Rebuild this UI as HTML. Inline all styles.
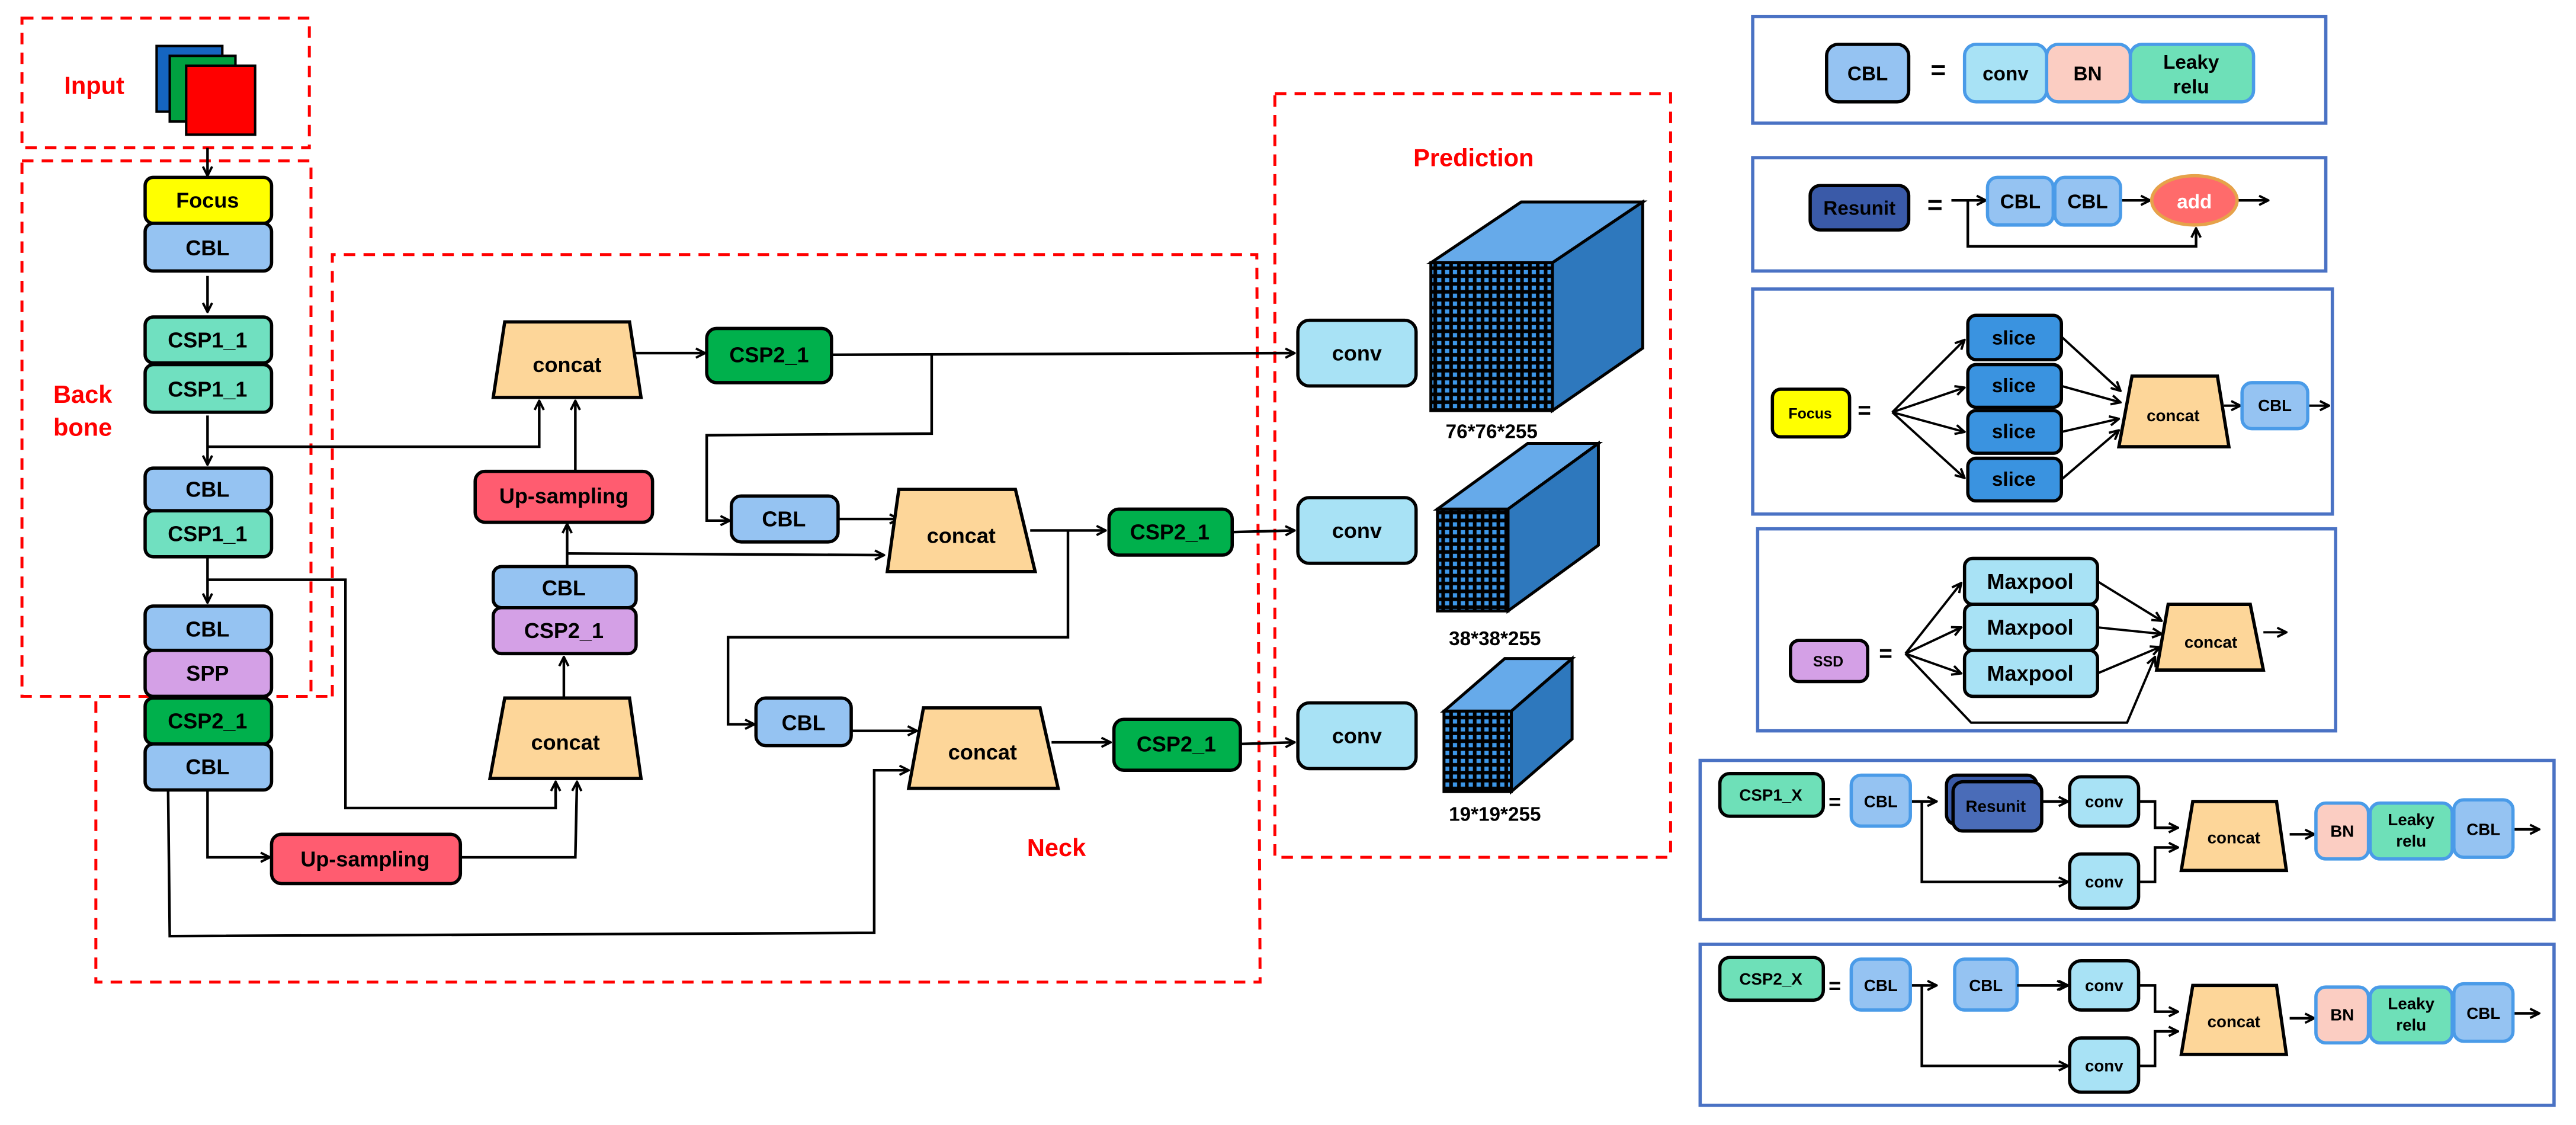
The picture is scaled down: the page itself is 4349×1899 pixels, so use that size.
<!DOCTYPE html>
<html><head><meta charset="utf-8"><style>
html,body{margin:0;padding:0;background:#fff;}
svg{display:block;}
text{font-family:"Liberation Sans",sans-serif;font-weight:bold;text-anchor:middle;dominant-baseline:central;}
</style></head><body>
<svg width="4349" height="1899" viewBox="0 0 1568 685" xmlns="http://www.w3.org/2000/svg">
<defs>
<marker id="a" viewBox="0 0 10 10" refX="9" refY="5" markerWidth="7" markerHeight="7" orient="auto" markerUnits="userSpaceOnUse"><path d="M1,1 L9,5 L1,9" fill="none" stroke="#000" stroke-width="2"/></marker>
<pattern id="g" width="4.8" height="4.8" patternUnits="userSpaceOnUse"><rect width="4.8" height="4.8" fill="#000"/><rect x="1.2" y="1.2" width="2.6" height="2.6" fill="#3d97e8"/></pattern>
</defs>

<g fill="none" stroke="#ff0000" stroke-width="1.8" stroke-dasharray="7,5">
<rect x="13" y="11" width="175" height="79"/>
<rect x="13" y="98" width="176" height="326"/>
<polyline points="202,424 202,155 765,155 767,598 58,598 58,424 202,424"/>
<rect x="776" y="57" width="241" height="465"/>
</g>
<text x="57" y="52" fill="#ff0000" font-size="15">Input</text>
<text x="50" y="240" fill="#ff0000" font-size="15">Back</text>
<text x="50" y="260" fill="#ff0000" font-size="15">bone</text>
<text x="643" y="516" fill="#ff0000" font-size="15">Neck</text>
<text x="897" y="96" fill="#ff0000" font-size="15">Prediction</text>

<rect x="95" y="28" width="40" height="40" fill="#1565c0" stroke="#000" stroke-width="1.5"/>
<rect x="103" y="34" width="40" height="40" fill="#00a040" stroke="#000" stroke-width="1.5"/>
<rect x="113" y="40" width="42" height="42" fill="#ff0000" stroke="#000" stroke-width="1.5"/>

<g fill="none" stroke="#000" stroke-width="1.6">
<line x1="126" y1="90" x2="126" y2="107" marker-end="url(#a)"/>
<line x1="126" y1="168" x2="126" y2="190" marker-end="url(#a)"/>
<line x1="126" y1="253" x2="126" y2="283" marker-end="url(#a)"/>
<polyline points="126,272 328,272 328,244" marker-end="url(#a)"/>
<line x1="126" y1="339" x2="126" y2="367" marker-end="url(#a)"/>
<polyline points="126,353 210,353 210,492 338,492 338,476" marker-end="url(#a)"/>
<polyline points="126,481 126,522 164,522" marker-end="url(#a)"/>
<polyline points="280,522 350,522 351,476" marker-end="url(#a)"/>
<polyline points="102,481 103,570 532,568 532,469 553,469" marker-end="url(#a)"/>
<line x1="343" y1="425" x2="343" y2="400" marker-end="url(#a)"/>
<line x1="345" y1="345" x2="345" y2="319" marker-end="url(#a)"/>
<polyline points="345,337 538,338" marker-end="url(#a)"/>
<line x1="350" y1="287" x2="350" y2="244" marker-end="url(#a)"/>
<line x1="385" y1="215" x2="429" y2="215" marker-end="url(#a)"/>
<polyline points="506,216 788,215" marker-end="url(#a)"/>
<polyline points="567,216 567,264 430,265 430,317 444,317" marker-end="url(#a)"/>
<line x1="510" y1="316" x2="547" y2="316" marker-end="url(#a)"/>
<line x1="627" y1="323" x2="673" y2="323" marker-end="url(#a)"/>
<line x1="750" y1="324" x2="788" y2="323" marker-end="url(#a)"/>
<polyline points="650,323 650,388 443,388 443,441 459,441" marker-end="url(#a)"/>
<line x1="518" y1="445" x2="558" y2="445" marker-end="url(#a)"/>
<line x1="640" y1="452" x2="676" y2="452" marker-end="url(#a)"/>
<line x1="755" y1="453" x2="788" y2="452" marker-end="url(#a)"/>
</g>

<g stroke="#000" stroke-width="2" font-size="13">
<rect x="88" y="108" width="77" height="28" rx="5" fill="#ffff00"/>
<rect x="88" y="136" width="77" height="29" rx="5" fill="#95c3f2"/>
<rect x="88" y="193" width="77" height="28" rx="5" fill="#70e0c0"/>
<rect x="88" y="222" width="77" height="29" rx="5" fill="#70e0c0"/>
<rect x="88" y="285" width="77" height="26" rx="5" fill="#95c3f2"/>
<rect x="88" y="311" width="77" height="28" rx="5" fill="#70e0c0"/>
<rect x="88" y="369" width="77" height="27" rx="5" fill="#95c3f2"/>
<rect x="88" y="396" width="77" height="28" rx="5" fill="#d4a0e6"/>
<rect x="88" y="425" width="77" height="28" rx="5" fill="#00b04c"/>
<rect x="88" y="453" width="77" height="28" rx="5" fill="#95c3f2"/>
<rect x="165" y="508" width="115" height="30" rx="6" fill="#ff5c70"/>
<polygon points="307,425 383,425 390,474 298,474" fill="#fdd699"/>
<rect x="300" y="345" width="87" height="25" rx="5" fill="#95c3f2"/>
<rect x="300" y="370" width="87" height="28" rx="5" fill="#d4a0e6"/>
<rect x="289" y="287" width="108" height="31" rx="6" fill="#ff5c70"/>
<polygon points="307,196 383,196 390,242 300,242" fill="#fdd699"/>
<rect x="430" y="200" width="76" height="33" rx="6" fill="#00b04c"/>
<rect x="445" y="302" width="65" height="28" rx="6" fill="#95c3f2"/>
<polygon points="547,298 618,298 630,348 540,348" fill="#fdd699"/>
<rect x="675" y="310" width="75" height="28" rx="6" fill="#00b04c"/>
<rect x="460" y="425" width="58" height="29" rx="6" fill="#95c3f2"/>
<polygon points="562,431 633,431 644,480 553,480" fill="#fdd699"/>
<rect x="678" y="438" width="77" height="31" rx="6" fill="#00b04c"/>
<rect x="790" y="195" width="72" height="40" rx="7" fill="#a8e2f5"/>
<rect x="790" y="303" width="72" height="40" rx="7" fill="#a8e2f5"/>
<rect x="790" y="428" width="72" height="40" rx="7" fill="#a8e2f5"/>
</g>
<g font-size="13" fill="#000">
<text x="126" y="122">Focus</text><text x="126" y="151">CBL</text>
<text x="126" y="207">CSP1_1</text><text x="126" y="237">CSP1_1</text>
<text x="126" y="298">CBL</text><text x="126" y="325">CSP1_1</text>
<text x="126" y="383">CBL</text><text x="126" y="410">SPP</text>
<text x="126" y="439">CSP2_1</text><text x="126" y="467">CBL</text>
<text x="222" y="523">Up-sampling</text>
<text x="344" y="452">concat</text>
<text x="343" y="358">CBL</text><text x="343" y="384">CSP2_1</text>
<text x="343" y="302">Up-sampling</text>
<text x="345" y="222">concat</text>
<text x="468" y="216">CSP2_1</text>
<text x="477" y="316">CBL</text>
<text x="585" y="326">concat</text>
<text x="712" y="324">CSP2_1</text>
<text x="489" y="440">CBL</text>
<text x="598" y="458">concat</text>
<text x="716" y="453">CSP2_1</text>
<text x="826" y="215">conv</text><text x="826" y="323">conv</text><text x="826" y="448">conv</text>
</g>

<g stroke="#000" stroke-width="1.8" stroke-linejoin="miter">
<polygon points="871,160 945,160 1000,123 926,123" fill="#66aaea"/>
<polygon points="945,160 1000,123 1000,212 945,250" fill="#2e78bd"/>
<rect x="871" y="160" width="74" height="90" fill="url(#g)"/>
<polygon points="875,310 918,310 973,270 930,270" fill="#66aaea"/>
<polygon points="918,310 973,270 973,332 918,372" fill="#2e78bd"/>
<rect x="875" y="310" width="43" height="62" fill="url(#g)"/>
<polygon points="879,433 920,433 957,401 916,401" fill="#66aaea"/>
<polygon points="920,433 957,401 957,450 920,482" fill="#2e78bd"/>
<rect x="879" y="433" width="41" height="49" fill="url(#g)"/>
</g>
<g font-size="12"><text x="908" y="263">76*76*255</text><text x="910" y="389">38*38*255</text><text x="910" y="496">19*19*255</text></g>

<g fill="none" stroke="#4a72c4" stroke-width="2">
<rect x="1067" y="10" width="349" height="65"/>
<rect x="1067" y="96" width="349" height="69"/>
<rect x="1067" y="176" width="353" height="137"/>
<rect x="1070" y="322" width="352" height="123"/>
<rect x="1035" y="463" width="520" height="97"/>
<rect x="1035" y="575" width="520" height="98"/>
</g>

<g stroke-width="2" font-size="12">
<rect x="1112" y="27" width="50" height="35" rx="7" fill="#95c3f2" stroke="#000"/>
<rect x="1196" y="27" width="50" height="35" rx="7" fill="#a8e2f5" stroke="#4a9be8"/>
<rect x="1246" y="27" width="51" height="35" rx="7" fill="#fbcdc2" stroke="#4a9be8"/>
<rect x="1297" y="27" width="75" height="35" rx="7" fill="#6ee0b8" stroke="#4a9be8"/>
</g>
<g font-size="12"><text x="1137" y="45">CBL</text><text x="1180" y="43" font-size="16">=</text><text x="1221" y="45">conv</text><text x="1271" y="45">BN</text><text x="1334" y="38">Leaky</text><text x="1334" y="53">relu</text></g>

<g fill="none" stroke="#000" stroke-width="1.6">
<line x1="1188" y1="122" x2="1209" y2="122" marker-end="url(#a)"/>
<line x1="1291" y1="122" x2="1309" y2="122" marker-end="url(#a)"/>
<line x1="1362" y1="122" x2="1381" y2="122" marker-end="url(#a)"/>
<polyline points="1198,122 1198,150 1337,150 1337,139" marker-end="url(#a)"/>
</g>
<rect x="1102" y="113" width="60" height="27" rx="6" fill="#3a5aa8" stroke="#000" stroke-width="2"/>
<rect x="1210" y="108" width="40" height="29" rx="6" fill="#95c3f2" stroke="#4a9be8" stroke-width="2"/>
<rect x="1251" y="108" width="40" height="29" rx="6" fill="#95c3f2" stroke="#4a9be8" stroke-width="2"/>
<ellipse cx="1336" cy="122" rx="26" ry="15" fill="#ff6b6b" stroke="#e6a24a" stroke-width="2"/>
<g font-size="12"><text x="1132" y="127">Resunit</text><text x="1178" y="125" font-size="16">=</text><text x="1230" y="123">CBL</text><text x="1271" y="123">CBL</text><text x="1336" y="123" fill="#fff" font-weight="normal">add</text></g>

<g fill="none" stroke="#000" stroke-width="1.4">
<line x1="1152" y1="251" x2="1196" y2="207" marker-end="url(#a)"/>
<line x1="1152" y1="251" x2="1196" y2="236" marker-end="url(#a)"/>
<line x1="1152" y1="251" x2="1196" y2="263" marker-end="url(#a)"/>
<line x1="1152" y1="251" x2="1196" y2="291" marker-end="url(#a)"/>
<line x1="1255" y1="205" x2="1291" y2="238" marker-end="url(#a)"/>
<line x1="1255" y1="235" x2="1291" y2="245" marker-end="url(#a)"/>
<line x1="1255" y1="263" x2="1290" y2="255" marker-end="url(#a)"/>
<line x1="1255" y1="292" x2="1290" y2="262" marker-end="url(#a)"/>
<line x1="1354" y1="247" x2="1364" y2="247" marker-end="url(#a)"/>
<line x1="1405" y1="247" x2="1418" y2="247" marker-end="url(#a)"/>
</g>
<g stroke="#000" stroke-width="2">
<rect x="1079" y="237" width="47" height="29" rx="5" fill="#ffff00"/>
<rect x="1198" y="192" width="57" height="27" rx="5" fill="#3a93e0"/>
<rect x="1198" y="222" width="57" height="26" rx="5" fill="#3a93e0"/>
<rect x="1198" y="250" width="57" height="26" rx="5" fill="#3a93e0"/>
<rect x="1198" y="279" width="57" height="26" rx="5" fill="#3a93e0"/>
<polygon points="1298,229 1350,229 1357,272 1290,272" fill="#fdd699"/>
</g>
<rect x="1365" y="233" width="40" height="28" rx="6" fill="#95c3f2" stroke="#4a9be8" stroke-width="2"/>
<g font-size="12"><text x="1102" y="252" font-size="9">Focus</text><text x="1135" y="250" font-size="14">=</text>
<text x="1226" y="206">slice</text><text x="1226" y="235">slice</text><text x="1226" y="263">slice</text><text x="1226" y="292">slice</text>
<text x="1323" y="253" font-size="10">concat</text><text x="1385" y="247" font-size="10">CBL</text></g>

<g fill="none" stroke="#000" stroke-width="1.4">
<line x1="1160" y1="398" x2="1194" y2="355" marker-end="url(#a)"/>
<line x1="1160" y1="398" x2="1194" y2="382" marker-end="url(#a)"/>
<line x1="1160" y1="398" x2="1194" y2="410" marker-end="url(#a)"/>
<polyline points="1160,398 1200,440 1295,440 1312,400" marker-end="url(#a)"/>
<line x1="1277" y1="354" x2="1316" y2="378" marker-end="url(#a)"/>
<line x1="1277" y1="382" x2="1316" y2="386" marker-end="url(#a)"/>
<line x1="1277" y1="410" x2="1315" y2="394" marker-end="url(#a)"/>
<line x1="1378" y1="385" x2="1392" y2="385" marker-end="url(#a)"/>
</g>
<g stroke="#000" stroke-width="2">
<rect x="1090" y="390" width="47" height="25" rx="5" fill="#d4a0e6"/>
<rect x="1196" y="340" width="81" height="28" rx="5" fill="#a8e2f5"/>
<rect x="1196" y="368" width="81" height="28" rx="5" fill="#a8e2f5"/>
<rect x="1196" y="396" width="81" height="28" rx="5" fill="#a8e2f5"/>
<polygon points="1320,368 1370,368 1378,408 1313,408" fill="#fdd699"/>
</g>
<g font-size="13"><text x="1113" y="403" font-size="9">SSD</text><text x="1148" y="398" font-size="14">=</text>
<text x="1236" y="354">Maxpool</text><text x="1236" y="382">Maxpool</text><text x="1236" y="410">Maxpool</text>
<text x="1346" y="391" font-size="10">concat</text></g>

<g id="csp">
<g fill="none" stroke="#000" stroke-width="1.6">
<line x1="1163" y1="488" x2="1179" y2="488" marker-end="url(#a)"/>
<line x1="1242" y1="488" x2="1259" y2="488" marker-end="url(#a)"/>
<polyline points="1170,488 1170,537 1259,537" marker-end="url(#a)"/>
<polyline points="1302,488 1312,488 1312,504 1326,504" marker-end="url(#a)"/>
<polyline points="1302,537 1312,537 1312,516 1326,516" marker-end="url(#a)"/>
<line x1="1394" y1="508" x2="1409" y2="508" marker-end="url(#a)"/>
<line x1="1530" y1="505" x2="1546" y2="505" marker-end="url(#a)"/>
</g>
<rect x="1047" y="471" width="63" height="26" rx="6" fill="#6ee0b8" stroke="#000" stroke-width="2"/>
<rect x="1127" y="472" width="36" height="31" rx="6" fill="#95c3f2" stroke="#4a9be8" stroke-width="2"/>
<rect x="1260" y="473" width="42" height="30" rx="7" fill="#a8e2f5" stroke="#000" stroke-width="2"/>
<rect x="1260" y="520" width="42" height="33" rx="7" fill="#a8e2f5" stroke="#000" stroke-width="2"/>
<polygon points="1335,488 1386,488 1392,530 1328,530" fill="#fdd699" stroke="#000" stroke-width="2"/>
<rect x="1410" y="489" width="32" height="34" rx="6" fill="#fbcdc2" stroke="#4a9be8" stroke-width="2"/>
<rect x="1443" y="489" width="50" height="34" rx="6" fill="#6ee0b8" stroke="#4a9be8" stroke-width="2"/>
<rect x="1494" y="487" width="36" height="35" rx="6" fill="#95c3f2" stroke="#4a9be8" stroke-width="2"/>
<g font-size="10"><text x="1117" y="488" font-size="13">=</text><text x="1145" y="488">CBL</text>
<text x="1281" y="488">conv</text><text x="1281" y="537">conv</text><text x="1360" y="510">concat</text>
<text x="1426" y="506">BN</text><text x="1468" y="499">Leaky</text><text x="1468" y="512">relu</text><text x="1512" y="505">CBL</text></g>
</g>
<rect x="1185" y="472" width="55" height="30" rx="6" fill="#3a5aa8" stroke="#000" stroke-width="2"/>
<rect x="1189" y="476" width="54" height="30" rx="6" fill="#4a6cb8" stroke="#000" stroke-width="2"/>
<text x="1215" y="491" font-size="10">Resunit</text>
<text x="1078" y="484" font-size="10">CSP1_X</text>

<use href="#csp" y="112"/>
<rect x="1190" y="584" width="38" height="31" rx="6" fill="#95c3f2" stroke="#4a9be8" stroke-width="2"/>
<text x="1209" y="600" font-size="10">CBL</text>
<line x1="1228" y1="600" x2="1258" y2="600" stroke="#000" stroke-width="1.6" marker-end="url(#a)"/>
<text x="1078" y="596" font-size="10">CSP2_X</text>
</svg>
</body></html>
